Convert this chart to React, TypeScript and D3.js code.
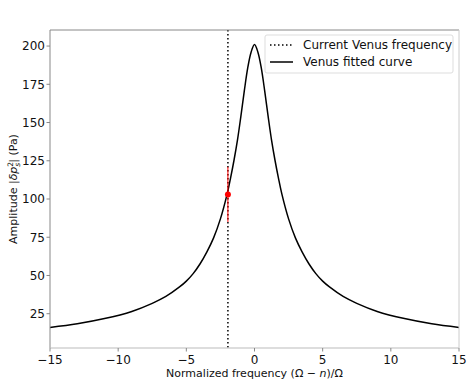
import React from "react";
import * as d3 from "d3";

const curveX = [-15, -13, -11, -9, -7.5, -6.5, -5.5, -5, -4.5, -4, -3.5, -3, -2.5, -2, -1.75, -1.5, -1.25, -1, -0.75, -0.5, -0.25, 0,
  0.25, 0.5, 0.75, 1, 1.25, 1.5, 1.75, 2, 2.5, 3, 3.5, 4, 4.5, 5, 5.5, 6.5, 7.5, 9, 11, 13, 15];
const curveY = [16.0, 18.4, 21.8, 26.5, 31.8, 36.3, 42.5, 46.3, 51.2, 57.5, 65.3, 74.6, 87, 103.5, 114, 125.5, 138.5, 154, 170.5, 185.5, 196, 201,
  196, 185.5, 170.5, 154, 138.5, 125.5, 114, 103.5, 87, 74.6, 65.3, 57.5, 51.2, 46.3, 42.5, 36.3, 31.8, 26.5, 21.8, 18.4, 16.0];
const venusX = -1.95;
const venusY = 103;
const venusErr = 18;
const xTicks = [-15, -10, -5, 0, 5, 10, 15];
const yTicks = [25, 50, 75, 100, 125, 150, 175, 200];
const legendLabels = ["Current Venus frequency", "Venus fitted curve"];

const W = 474, H = 381;
const L = 50, R = 459, T = 30, B = 348;
const FONT = "DejaVu Sans, sans-serif";

export default function App() {
  const x = d3.scaleLinear().domain([-15, 15]).range([L, R]);
  const y = d3.scaleLinear().domain([2.58, 210.5]).range([B, T]);
  const pts: [number, number][] = curveX.map((v, i) => [v, curveY[i]]);
  const line = d3.line<[number, number]>().x(d => x(d[0])).y(d => y(d[1])).curve(d3.curveCatmullRom.alpha(0.5));
  const fmt = (v: number) => (v < 0 ? "\u2212" + Math.abs(v) : String(v));
  return (
    <svg width={W} height={H} style={{ position: "absolute", left: 0, top: 0, background: "#fff" }} fontFamily={FONT}>
      <rect x={0} y={0} width={W} height={H} fill="#fff" />
      <path d={line(pts) || ""} fill="none" stroke="#000" strokeWidth={1.5} />
      <line x1={x(venusX)} x2={x(venusX)} y1={T} y2={B} stroke="#000" strokeWidth={1.5} strokeDasharray="1.5,2.5" />
      <line x1={x(venusX)} x2={x(venusX)} y1={y(venusY + venusErr)} y2={y(venusY - venusErr)} stroke="red" strokeWidth={1} />
      <circle cx={x(venusX)} cy={y(venusY)} r={3} fill="red" />
      <line x1={L} x2={R} y1={T} y2={T} stroke="#888" strokeWidth={1} />
      <line x1={L} x2={L} y1={T} y2={B} stroke="#888" strokeWidth={1} />
      <line x1={L} x2={R} y1={B} y2={B} stroke="#bbb" strokeWidth={1} />
      <line x1={R} x2={R} y1={T} y2={B} stroke="#ccc" strokeWidth={1} />
      {xTicks.map(t => (
        <g key={"x" + t}>
          <line x1={x(t)} x2={x(t)} y1={B} y2={B + 3.5} stroke="#888" />
          <text x={x(t)} y={B + 15.5} fontSize={12} textAnchor="middle" fill="#111">{fmt(t)}</text>
        </g>
      ))}
      {yTicks.map(t => (
        <g key={"y" + t}>
          <line x1={L - 3.5} x2={L} y1={y(t)} y2={y(t)} stroke="#888" />
          <text x={L - 5} y={y(t)} dy="0.36em" fontSize={12} textAnchor="end" fill="#111">{t}</text>
        </g>
      ))}
      <text x={(L + R) / 2} y={377} fontSize={11} textAnchor="middle" fill="#111">
        Normalized frequency (Ω − <tspan fontStyle="italic">n</tspan>)/Ω
      </text>
      <text transform={`translate(17,${(T + B) / 2}) rotate(-90)`} fontSize={11} textAnchor="middle" fill="#111">
        Amplitude |<tspan fontStyle="italic">δp</tspan>
        <tspan fontSize={7.5} dy={-4.5}>2</tspan>
        <tspan fontSize={7.5} fontStyle="italic" dx={-4.8} dy={7}>s</tspan>
        <tspan dy={-2.5}>| (Pa)</tspan>
      </text>
      <rect x={265} y={35} width={188} height={38} rx={2} fill="#fff" stroke="#ddd" strokeWidth={1} />
      <line x1={270} x2={293} y1={45} y2={45} stroke="#000" strokeWidth={1.5} strokeDasharray="1.5,2.5" />
      <text x={303} y={45} dy="0.36em" fontSize={12} fill="#111">{legendLabels[0]}</text>
      <line x1={270} x2={293} y1={62} y2={62} stroke="#000" strokeWidth={1.5} />
      <text x={303} y={62} dy="0.36em" fontSize={12} fill="#111">{legendLabels[1]}</text>
    </svg>
  );
}
